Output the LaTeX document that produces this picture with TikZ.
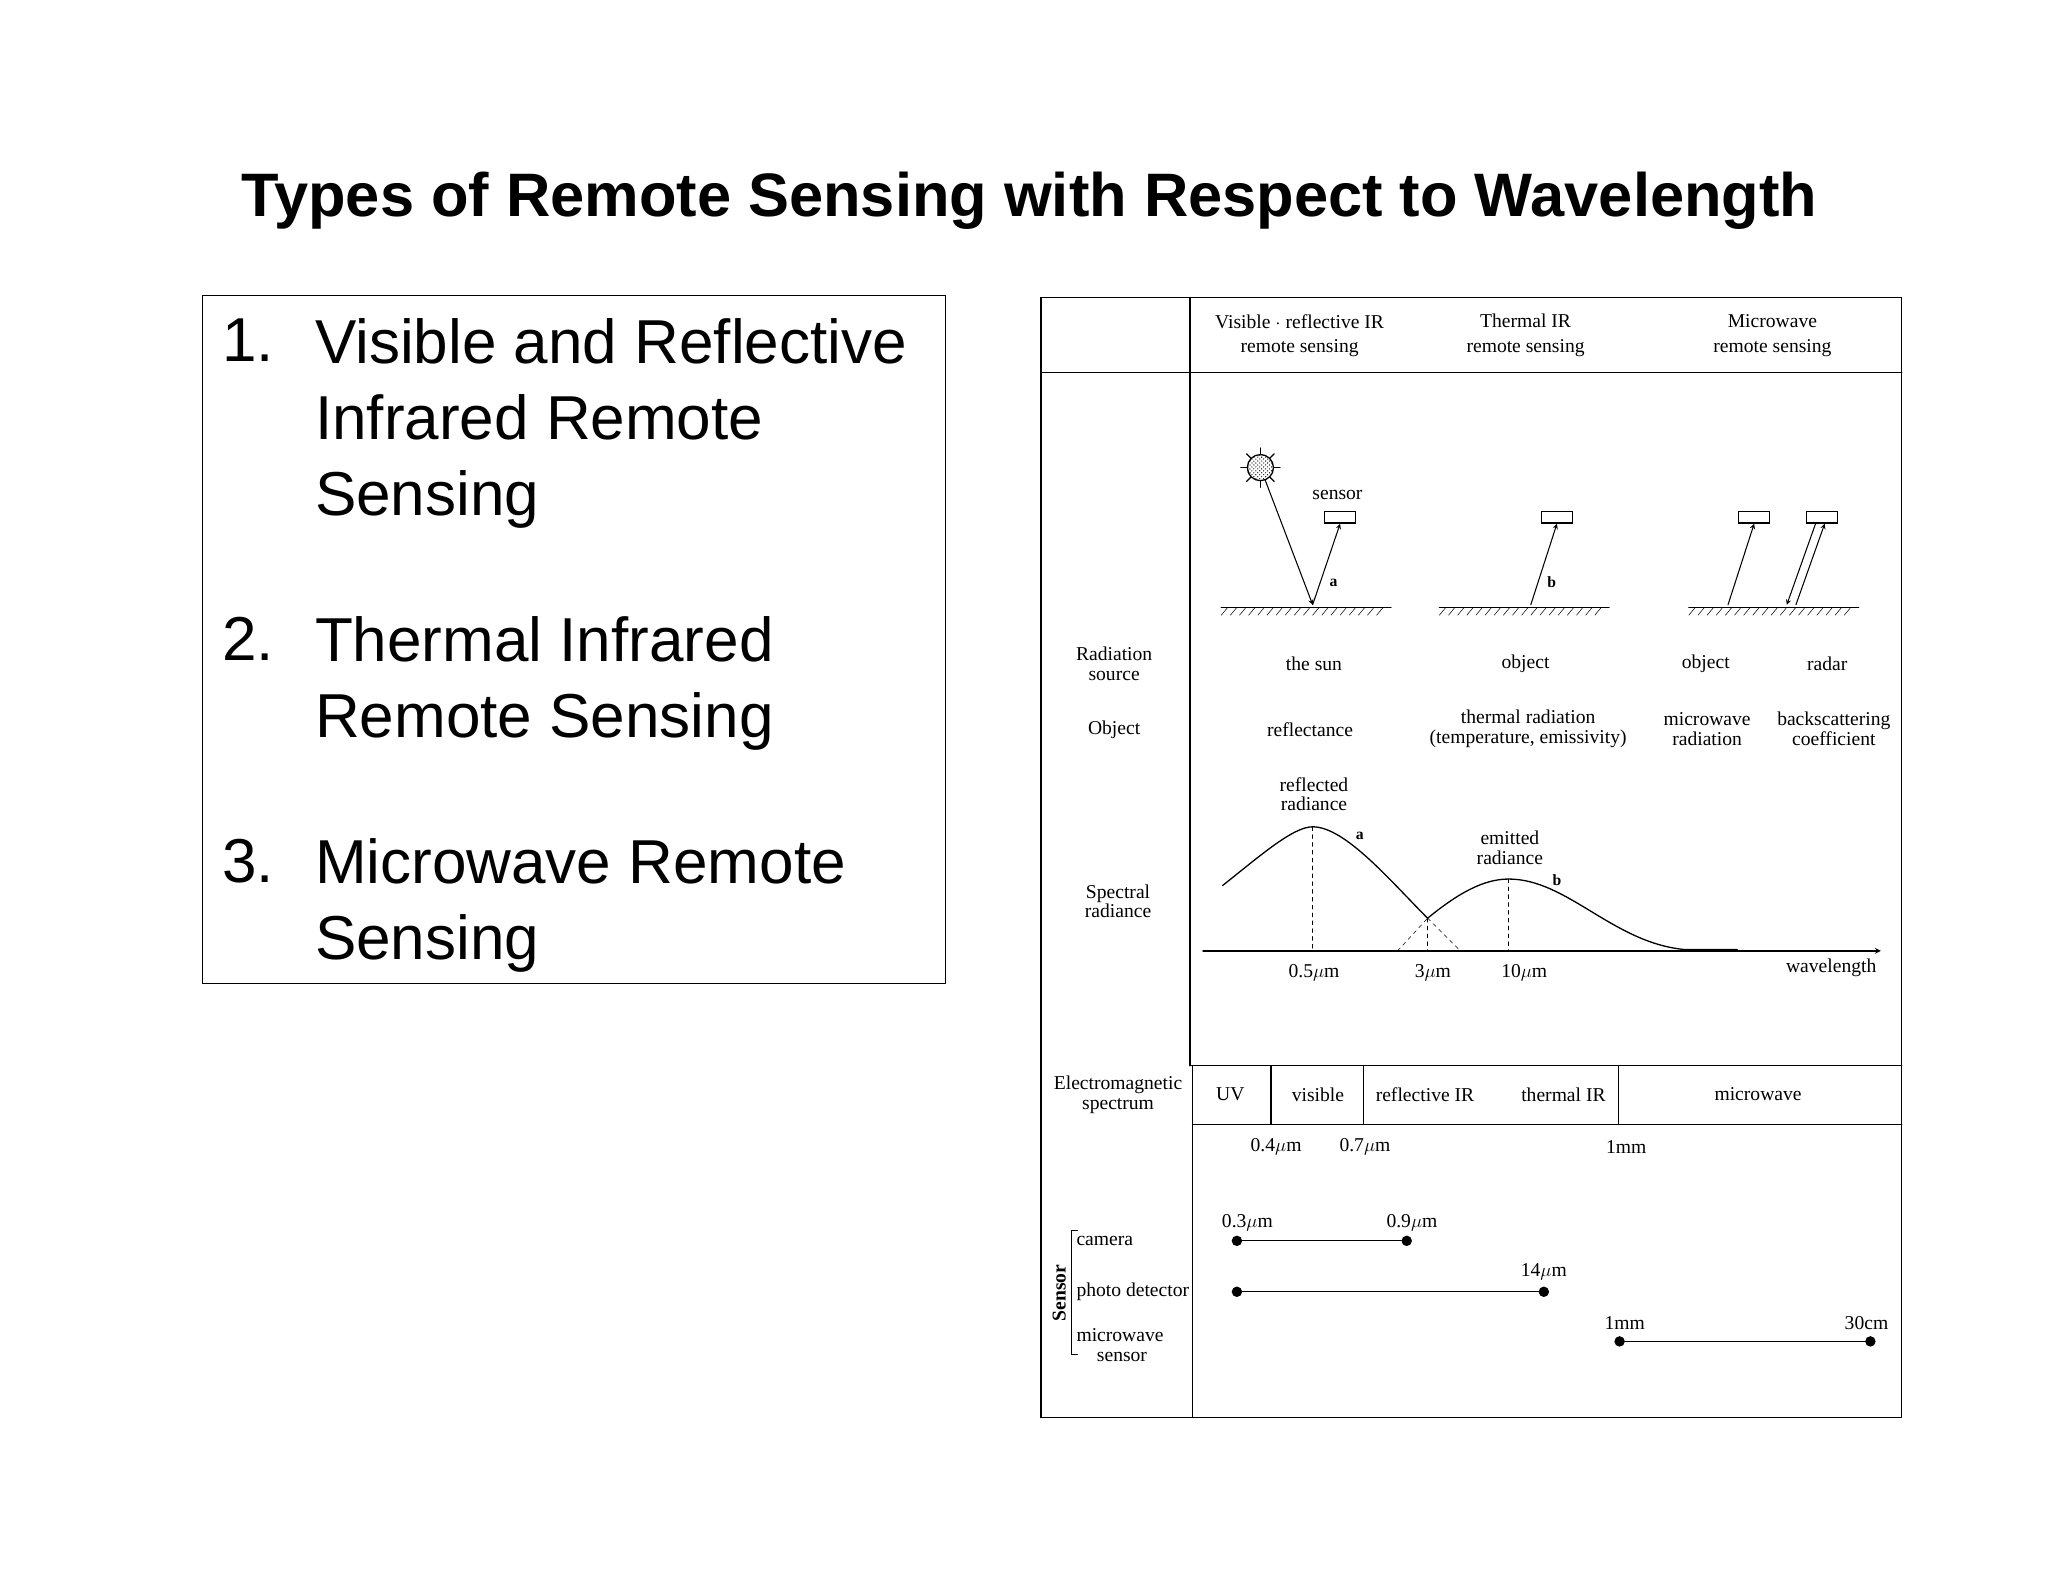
\documentclass[tikz,border=0pt]{standalone}
\usepackage{fontspec}
\setmainfont{Liberation Serif}
\newfontfamily\sansf{Liberation Sans}
\usetikzlibrary{arrows,calc,positioning,patterns,decorations.pathreplacing}

\begin{document}
\begin{tikzpicture}[x=1pt,y=-1pt,line cap=round]
\tikzstyle{lbl}=[font=\fontsize{15}{15}\selectfont, align=center, inner sep=1pt];
\tikzstyle{item}=[font=\sansf\fontsize{47.5}{58}\selectfont, anchor=north west, align=left, inner sep=0pt];
\tikzstyle{frame}=[line width=1pt];
\tikzstyle{dot}=[circle, fill=black, inner sep=0pt, minimum size=8pt];
\tikzstyle{box}=[draw, line width=1pt, minimum width=24pt, minimum height=9pt, inner sep=0pt];
\useasboundingbox (0,0) rectangle (1568,1211);

% title and list
\node[font=\sansf\bfseries\fontsize{47}{47}\selectfont] (title) at (788,154) {Types of Remote Sensing with Respect to Wavelength};
\draw[line width=1pt] (155,226) rectangle (724,753);
\node[item] (n1) at (170,244) {1.};
\node[item] (t1) at (241,244) {Visible and Reflective\\Infrared Remote\\Sensing};
\node[item] (n2) at (170,472) {2.};
\node[item] (t2) at (241,472) {Thermal Infrared\\Remote Sensing};
\node[item] (n3) at (170,642) {3.};
\node[item] (t3) at (241,642) {Microwave Remote\\Sensing};

% table frame
\draw[frame] (797,228) rectangle (1456,1085);
\draw[frame] (911,228) -- (911,816) (913,816) -- (913,1085);
\draw[frame] (797,285) -- (1456,285);
\draw[frame] (911,816) -- (1456,816) (913,861) -- (1456,861);
\foreach \x in {973,1044,1239} \draw[frame] (\x,816) -- (\x,861);

% headers
\node[lbl] (h1) at (995,257) {Visible $\cdot$ reflective IR\\[4pt]remote sensing};
\node[lbl] (h2) at (1168,257) {Thermal IR\\[4pt]remote sensing};
\node[lbl] (h3) at (1357,257) {Microwave\\[4pt]remote sensing};

% row labels
\node[lbl] (rs) at (853,508) {Radiation\\source};
\node[lbl] (ob) at (853,559) {Object};
\node[lbl] (sr) at (856,690) {Spectral\\radiance};
\node[lbl] (em) at (856,838) {Electromagnetic\\spectrum};
\node[lbl, rotate=90, font=\bfseries\fontsize{15}{15}\selectfont] (sen) at (811,990) {Sensor};
\draw (825,942) -- (820,942) -- (820,1037) -- (825,1037);
\node[lbl, anchor=west] (cam) at (823,950) {camera};
\node[lbl, anchor=west] (pd) at (823,989) {photo detector};
\node[lbl, anchor=west] (mw) at (823,1022) {microwave};
\node[lbl] (mws) at (859,1039) {sensor};

% scenes
\foreach \a/\b in {935/1065,1102/1232,1293/1423}{
  \draw[line width=1pt] (\a,465) -- (\b,465);
  \foreach \h in {0,7,...,125} \draw ({\a+\h},471) -- ({\a+\h+5},465);
}
\node[circle, draw, line width=1pt, pattern=crosshatch dots, minimum size=20pt, inner sep=0pt] (sun) at (965,358) {};
\foreach \r in {0,45,...,315} \draw[line width=1pt] ($(sun)+(\r:10)$) -- ($(sun)+(\r:15)$);
\node[box] (s1) at (1026,396) {};
\node[lbl] (sl) at (1024,379) {sensor};
\coordinate (g1) at (1005,463);
\draw[-stealth, line width=0.8pt] (sun) -- (g1);
\draw[-stealth, line width=0.8pt] (g1) -- (s1.south);
\node[lbl, font=\bfseries\fontsize{12}{12}\selectfont] (la) at (1021,446) {a};
\node[box] (s2) at (1192,396) {};
\coordinate (g2) at (1172,463);
\draw[-stealth, line width=0.8pt] (g2) -- (s2.south);
\node[lbl, font=\bfseries\fontsize{12}{12}\selectfont] (lb) at (1188,446) {b};
\node[box] (s3) at (1343,396) {};
\coordinate (g3) at (1323,463);
\draw[-stealth, line width=0.8pt] (g3) -- (s3.south);
\node[box] (s4) at (1395,396) {};
\draw[stealth-, line width=0.8pt] (1368,463) -- (1390,401);
\draw[-stealth, line width=0.8pt] (1375,463) -- (1397,401);

\node[lbl] (r1) at (1006,508) {the sun};
\node[lbl] (r2) at (1168,508) {object};
\node[lbl] (r3) at (1306,508) {object};
\node[lbl] (r4) at (1399,508) {radar};
\node[lbl] (o1) at (1003,559) {reflectance};
\node[lbl] (o2) at (1170,558) {thermal radiation\\(temperature, emissivity)};
\node[lbl] (o3) at (1307,558) {microwave\\radiation};
\node[lbl] (o4) at (1404,558) {backscattering\\coefficient};

% spectral radiance
\draw[-stealth, line width=1pt] (921,728) -- (1440,728);
\draw[line width=1pt] (936,678) .. controls (965,655) and (990,633) .. (1005,633)
  .. controls (1030,633) and (1065,675) .. (1093,703);
\draw[dashed] (1093,703) -- (1118,728);
\draw[dashed] (1070,728) -- (1093,703);
\draw[line width=1pt] (1093,703) .. controls (1115,685) and (1135,673) .. (1155,673)
  .. controls (1200,673) and (1235,722) .. (1290,727) -- (1330,727);
\draw[dashed] (1005,633) -- (1005,728) (1155,673) -- (1155,728) (1093,703) -- (1093,728);
\node[lbl] (rr) at (1006,608) {reflected\\radiance};
\node[lbl, font=\bfseries\fontsize{12}{12}\selectfont] (ca) at (1041,640) {a};
\node[lbl] (er) at (1156,649) {emitted\\radiance};
\node[lbl, font=\bfseries\fontsize{12}{12}\selectfont] (cb) at (1192,674) {b};
\node[lbl] (w1) at (1006,745) {0.5$\mu$m};
\node[lbl] (w2) at (1097,745) {3$\mu$m};
\node[lbl] (w3) at (1167,745) {10$\mu$m};
\node[lbl] (wl) at (1402,741) {wavelength};

% spectrum
\node[lbl] (uv) at (942,838) {UV};
\node[lbl] (vis) at (1009,838) {visible};
\node[lbl] (rir) at (1091,838) {reflective IR};
\node[lbl] (tir) at (1197,838) {thermal IR};
\node[lbl] (mic) at (1346,838) {microwave};
\node[lbl] (k1) at (977,878) {0.4$\mu$m};
\node[lbl] (k2) at (1045,878) {0.7$\mu$m};
\node[lbl] (k3) at (1245,878) {1mm};

% sensor ranges
\node[dot] (c1) at (947,950) {};
\node[dot] (c2) at (1077,950) {};
\draw[line width=1pt] (c1) -- (c2);
\node[lbl] (c1l) at (955,936) {0.3$\mu$m};
\node[lbl] (c2l) at (1081,936) {0.9$\mu$m};
\node[dot] (p1) at (947,989) {};
\node[dot] (p2) at (1182,989) {};
\draw[line width=1pt] (p1) -- (p2);
\node[lbl] (p2l) at (1182,974) {14$\mu$m};
\node[dot] (m1) at (1240,1027) {};
\node[dot] (m2) at (1432,1027) {};
\draw[line width=1pt] (m1) -- (m2);
\node[lbl] (m1l) at (1244,1013) {1mm};
\node[lbl] (m2l) at (1429,1013) {30cm};
\end{tikzpicture}
\end{document}
